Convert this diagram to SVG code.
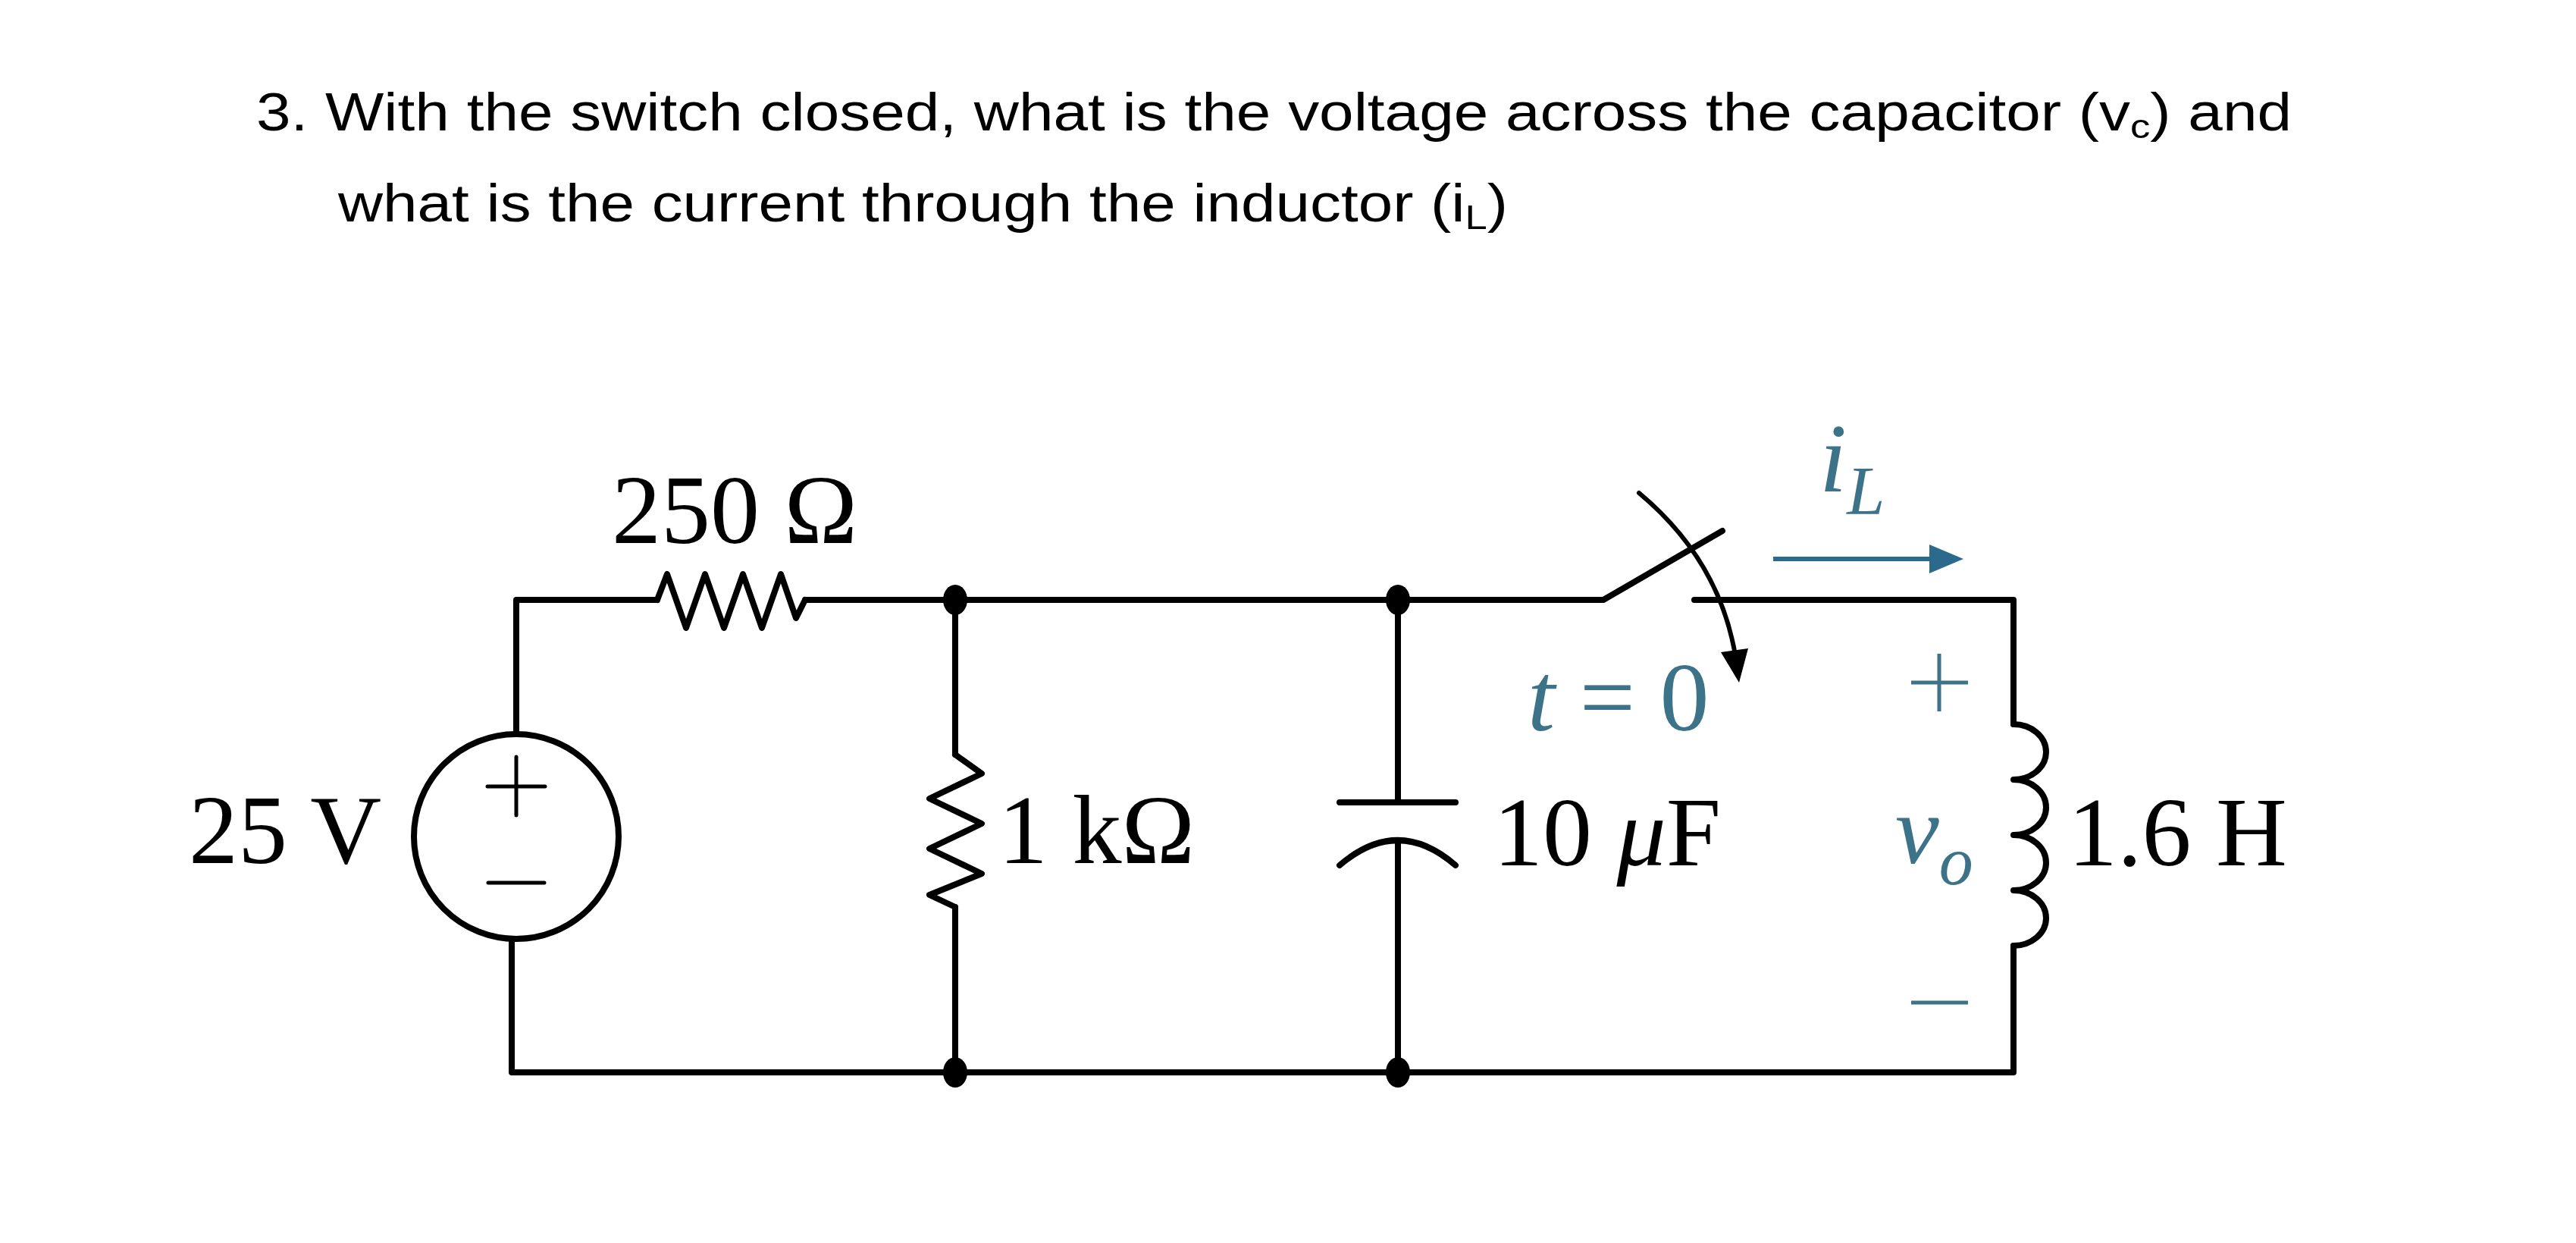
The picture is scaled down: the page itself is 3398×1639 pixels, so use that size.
<svg xmlns="http://www.w3.org/2000/svg" width="3398" height="1639" viewBox="0 0 3398 1639">
<style>
.w{fill:none;stroke:#000;stroke-width:8;stroke-linejoin:round;stroke-linecap:round}
.h{font-family:"Liberation Sans",Arial,sans-serif;font-size:70px;fill:#000}
.s{font-family:"Liberation Serif","Times New Roman",serif;font-size:130px;fill:#000}
.t{font-family:"Liberation Serif","Times New Roman",serif;font-size:130px;fill:#3c7388}
.dot{fill:#000}
</style>
<rect width="3398" height="1639" fill="#fff"/>
<g id="title">
<text class="h" x="338" y="172" textLength="2685" lengthAdjust="spacingAndGlyphs">3.  With the switch closed, what is the voltage across the capacitor (v<tspan font-size="45" dy="10">c</tspan><tspan dy="-10">) and</tspan></text>
<text class="h" x="446" y="292" textLength="1543" lengthAdjust="spacingAndGlyphs">what is the current through the inductor (i<tspan font-size="45" dy="10">L</tspan><tspan dy="-10">)</tspan></text>
</g>
<g id="connectors">
<path class="w" d="M681,968 V791 H867 M1062,791 H2115 L2272,700 M2235,791 H2656 V955 M2656,1247 V1414 H675 V1238"/>
<path class="w" d="M1260,791 V995 M1260,1196 V1414"/>
<path class="w" d="M1844,791 V1058 M1844,1112 V1414"/>
</g>
<g id="R250">
<path class="w" d="M867,791 L880,757 L905,828 L930,757 L955,828 L980,757 L1005,828 L1030,757 L1050,815 L1062,791"/>
<text class="s" x="807" y="716">250 Ω</text>
</g>
<g id="V25">
<circle cx="681" cy="1103" r="135" class="w"/>
<path class="w" d="M643,1037 H719 M681,998 V1075 M644,1164 H718" style="stroke-width:5"/>
<text class="s" x="249" y="1138">25 V</text>
</g>
<g id="R1k">
<path class="w" d="M1260,995 L1295,1020 L1226,1053 L1295,1086 L1226,1119 L1295,1152 L1226,1180 L1260,1196"/>
<text class="s" x="1317" y="1138">1 kΩ</text>
</g>
<g id="C">
<path class="w" d="M1767,1058 H1920"/>
<path class="w" d="M1767,1141 Q1844,1075 1920,1141"/>
<text class="s" x="1970" y="1141">10 <tspan font-style="italic">μ</tspan>F</text>
</g>
<g id="switch">
<path class="w" d="M2162,650 Q2270,740 2290,870" style="stroke-width:6"/>
<path d="M2270,860 L2294,900 L2306,855 z" fill="#000"/>
<text class="t" x="2015" y="963"><tspan font-style="italic">t</tspan> = 0</text>
</g>
<g id="L">
<path class="w" d="M2656,955 A43,36.5 0 0 1 2656,1028 A43,36.5 0 0 1 2656,1101 A43,36.5 0 0 1 2656,1174 A43,36.5 0 0 1 2656,1247"/>
<text class="s" x="2728" y="1141">1.6 H</text>
<path d="M2521,900 H2596 M2558,862 V938 M2521,1322 H2596" stroke="#3c7388" stroke-width="5" fill="none"/>
<text class="t" x="2500" y="1138" font-style="italic">v<tspan font-size="90" dy="28">o</tspan></text>
</g>
<g id="iL">
<path d="M2339,737 H2550" stroke="#2b6a8c" stroke-width="6"/>
<path d="M2545,718 L2590,737 L2545,756 z" fill="#2b6a8c"/>
<text class="t" x="2400" y="648" font-style="italic" fill="#2b6a8c">i<tspan font-size="90" dy="30">L</tspan></text>
</g>
<g id="nodes">
<ellipse class="dot" cx="1260" cy="791" rx="16" ry="20"/>
<ellipse class="dot" cx="1844" cy="791" rx="16" ry="20"/>
<ellipse class="dot" cx="1260" cy="1414" rx="16" ry="20"/>
<ellipse class="dot" cx="1844" cy="1414" rx="16" ry="20"/>
</g>
</svg>
